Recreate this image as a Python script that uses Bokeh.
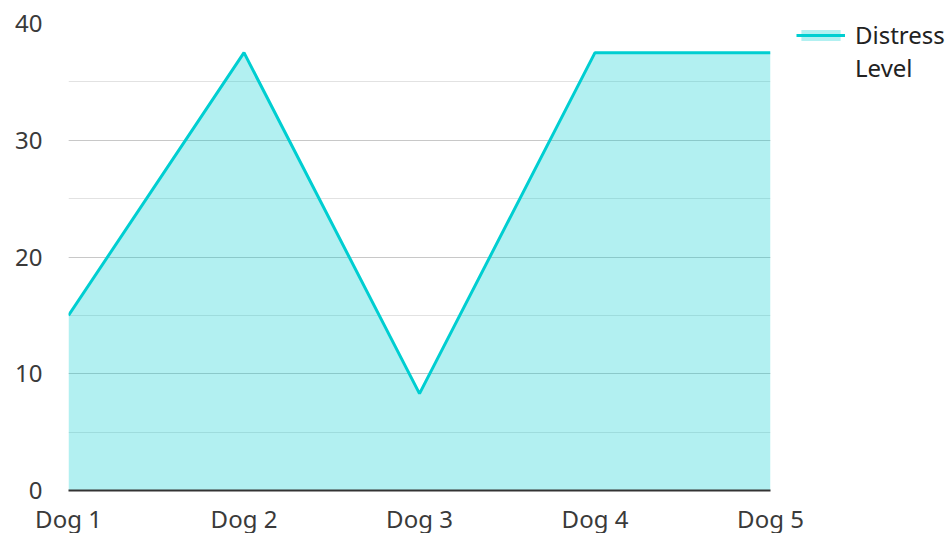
from bokeh.plotting import figure
from bokeh.models import (Legend, LegendItem, SingleIntervalTicker, FixedTicker,
                          ColumnDataSource, Range1d)
from bokeh.embed import file_html
from bokeh.resources import INLINE

dogs = ["Dog 1", "Dog 2", "Dog 3", "Dog 4", "Dog 5"]
distress = [15, 37.5, 8.3, 37.5, 37.5]
series_name = ["Distress", "Level"]

xs = list(range(len(dogs)))
src = ColumnDataSource(dict(x=xs, y=distress, y0=[0] * len(xs)))

FONT = "Noto Sans"

p = figure(frame_width=702, frame_height=467, output_backend="svg",
           toolbar_location=None, x_range=Range1d(0, len(dogs) - 1),
           y_range=Range1d(0, 40), min_border_left=68, min_border_top=23,
           min_border_bottom=40, min_border_right=10)
p.outline_line_color = None

area = p.varea(x="x", y1="y0", y2="y", source=src, fill_color="#00CED1", fill_alpha=0.3)
line = p.line(x="x", y="y", source=src, line_color="#00CED1", line_width=3)
ghost = p.line(x="x", y="y", source=src, line_alpha=0)

p.xaxis.ticker = FixedTicker(ticks=xs)
p.xaxis.major_label_overrides = {i: d for i, d in enumerate(dogs)}
p.yaxis.ticker = SingleIntervalTicker(interval=10, num_minor_ticks=2)

for ax in (p.xaxis, p.yaxis):
    ax.major_tick_line_color = None
    ax.minor_tick_line_color = None
    ax.major_label_text_font = FONT
    ax.major_label_text_font_size = "24px"
    ax.major_label_text_color = "#3a3a3a"
p.yaxis.axis_line_color = None
p.yaxis.major_label_standoff = 20
p.xaxis.axis_line_color = "#333333"
p.xaxis.axis_line_width = 2
p.xaxis.major_label_standoff = 5

p.xgrid.grid_line_color = None
p.ygrid.grid_line_color = "#c8c8c8"
p.ygrid.grid_line_width = 1
p.ygrid.minor_grid_line_color = "#e2e2e2"

legend = Legend(items=[LegendItem(label=series_name[0], renderers=[area, line]),
                       LegendItem(label=series_name[1], renderers=[ghost])],
                location=(26, 406))
legend.label_text_font = FONT
legend.label_text_font_size = "24px"
legend.label_text_color = "#222222"
legend.glyph_width = 49
legend.glyph_height = 14
legend.label_height = 20
legend.spacing = 0
legend.border_line_color = None
legend.background_fill_alpha = 0
legend.margin = 0
legend.padding = 0
legend.label_standoff = 10
p.add_layout(legend, "right")

open("out.html", "w").write(file_html(p, INLINE))
